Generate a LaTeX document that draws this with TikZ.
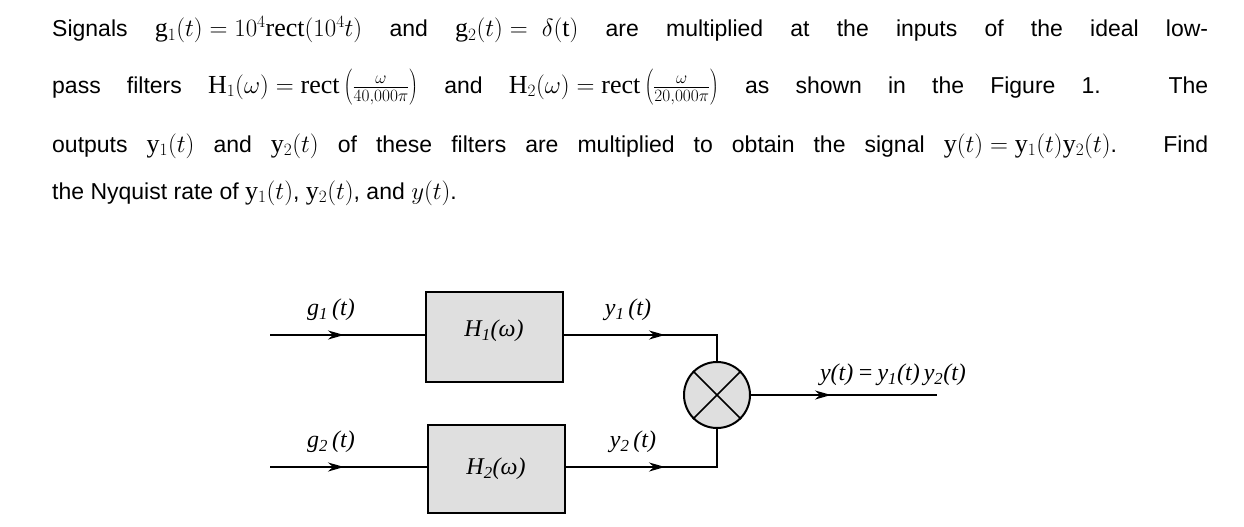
\documentclass[tikz,border=0pt]{standalone}
\usepackage{fontspec}
\setmainfont{Liberation Sans}
\setmathrm{Liberation Serif}
\newfontfamily\tms{Liberation Serif}
\usetikzlibrary{arrows.meta}
\newcommand{\mm}[1]{\mbox{\fontsize{26}{28}\selectfont$#1$}}
\begin{document}
\begin{tikzpicture}[x=1pt,y=-1pt,
  txt/.style={anchor=west,inner sep=0,font=\fontsize{23}{28}\selectfont},
  lbl/.style={inner sep=0,font=\tms\itshape\fontsize{24}{28}\selectfont},
  blk/.style={draw,line width=2pt,fill=gray!25},
  sig/.style={line width=1.6pt}]
\useasboundingbox (0,0) rectangle (1244,527);
\node[txt] (l1) at (52,30) {\makebox[1156pt][s]{Signals \mm{\mathrm{g}_1(t)=10^4\mathrm{rect}(10^4t)} and \mm{\mathrm{g}_2(t)=\ \delta(\mathrm{t})} are multiplied at the inputs of the ideal low-}};
\node[txt] (l2) at (52,87) {\makebox[1156pt][s]{pass filters \mm{\mathrm{H}_1(\omega)=\mathrm{rect}\left(\frac{\omega}{40{,}000\pi}\right)} and \mm{\mathrm{H}_2(\omega)=\mathrm{rect}\left(\frac{\omega}{20{,}000\pi}\right)} as shown in the Figure 1. The}};
\node[txt] (l3) at (52,146) {\makebox[1156pt][s]{outputs \mm{\mathrm{y}_1(t)} and \mm{\mathrm{y}_2(t)} of these filters are multiplied to obtain the signal \mm{\mathrm{y}(t)=\mathrm{y}_1(t)\mathrm{y}_2(t)}. Find}};
\node[txt] (l4) at (52,193) {the Nyquist rate of \mm{\mathrm{y}_1(t)}, \mm{\mathrm{y}_2(t)}, and \mm{y(t)}.};
% diagram
\node[blk,minimum width=137pt,minimum height=90pt] (h1) at (494.5,337) {};
\node[blk,minimum width=137pt,minimum height=88pt] (h2) at (496.5,469) {};
\node[lbl] at (494,331) {H\textsubscript{1}(ω)};
\node[lbl] at (496,469) {H\textsubscript{2}(ω)};
\node[draw,line width=2pt,fill=gray!25,circle,minimum size=66pt,inner sep=0] (m) at (717,395) {};
\draw[line width=1.6pt] (m.north west)--(m.south east) (m.north east)--(m.south west);
\coordinate (i1) at (270,335); \coordinate (i2) at (270,467);
\coordinate (c1) at (717,335); \coordinate (c2) at (717,467);
\coordinate (o) at (937,395);
\draw[sig] (i1) -- (i1 -| h1.west);
\draw[sig] (i2) -- (i2 -| h2.west);
\draw[sig] (i1 -| h1.east) -- (c1) -- (m.north);
\draw[sig] (i2 -| h2.east) -- (c2) -- (m.south);
\draw[sig] (m.east) -- (o);
\foreach \p in {(343,335),(343,467),(664,335),(664,467),(830,395)}
  \draw[sig,-{Stealth[length=16pt,width=9pt,inset=5pt]}] \p ++(-12,0) -- ++(13,0);
\node[lbl] at (331,310) {g\textsubscript{1}\,(t)};
\node[lbl] at (628,310) {y\textsubscript{1}\,(t)};
\node[lbl] at (331,442) {g\textsubscript{2}\,(t)};
\node[lbl] at (633,442) {y\textsubscript{2}\,(t)};
\node[lbl] at (893,375) {y(t)\,=\,y\textsubscript{1}(t)\,y\textsubscript{2}(t)};
\end{tikzpicture}
\end{document}
